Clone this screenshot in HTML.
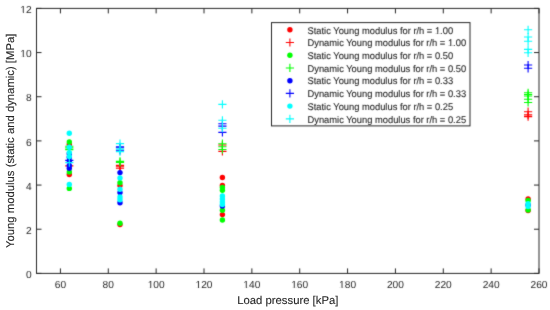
<!DOCTYPE html>
<html><head><meta charset="utf-8"><style>
html,body{margin:0;padding:0;background:#fff;}
svg{display:block;}
text{text-rendering:geometricPrecision;font-family:"Liberation Sans",Arial,sans-serif;fill:#262626;stroke:#262626;stroke-width:0;}
.t{font-size:10.2px;stroke-width:0;}
.l{font-size:9.7px;stroke-width:0.1px;}
.a{font-size:11.3px;stroke-width:0.1px;}
</style></head><body>
<svg width="550" height="310" viewBox="0 0 550 310">
<defs><filter id="bl" x="0" y="0" width="100%" height="100%" color-interpolation-filters="sRGB"><feConvolveMatrix order="3" kernelMatrix="0.02 0.08 0.02 0.08 0.6 0.08 0.02 0.08 0.02" preserveAlpha="true" edgeMode="duplicate"/></filter></defs>
<g filter="url(#bl)">
<rect width="550" height="310" fill="#fff"/>
<rect x="36.5" y="8.4" width="502.5" height="265.0" fill="none" stroke="#262626" stroke-width="1"/>
<path d="M60.43 273.4V268.4M60.43 8.4V13.4M108.29 273.4V268.4M108.29 8.4V13.4M156.14 273.4V268.4M156.14 8.4V13.4M204.00 273.4V268.4M204.00 8.4V13.4M251.86 273.4V268.4M251.86 8.4V13.4M299.71 273.4V268.4M299.71 8.4V13.4M347.57 273.4V268.4M347.57 8.4V13.4M395.43 273.4V268.4M395.43 8.4V13.4M443.29 273.4V268.4M443.29 8.4V13.4M491.14 273.4V268.4M491.14 8.4V13.4M539.00 273.4V268.4M539.00 8.4V13.4M36.5 273.40H41.5M539.0 273.40H534.0M36.5 229.23H41.5M539.0 229.23H534.0M36.5 185.07H41.5M539.0 185.07H534.0M36.5 140.90H41.5M539.0 140.90H534.0M36.5 96.73H41.5M539.0 96.73H534.0M36.5 52.57H41.5M539.0 52.57H534.0M36.5 8.40H41.5M539.0 8.40H534.0" stroke="#262626" stroke-width="1" fill="none"/>
<text x="60.43" y="288.1" text-anchor="middle" class="t">60</text>
<text x="108.29" y="288.1" text-anchor="middle" class="t">80</text>
<text x="156.14" y="288.1" text-anchor="middle" class="t">100</text>
<text x="204.00" y="288.1" text-anchor="middle" class="t">120</text>
<text x="251.86" y="288.1" text-anchor="middle" class="t">140</text>
<text x="299.71" y="288.1" text-anchor="middle" class="t">160</text>
<text x="347.57" y="288.1" text-anchor="middle" class="t">180</text>
<text x="395.43" y="288.1" text-anchor="middle" class="t">200</text>
<text x="443.29" y="288.1" text-anchor="middle" class="t">220</text>
<text x="491.14" y="288.1" text-anchor="middle" class="t">240</text>
<text x="539.00" y="288.1" text-anchor="middle" class="t">260</text>
<text x="31.7" y="278.00" text-anchor="end" class="t">0</text>
<text x="31.7" y="233.83" text-anchor="end" class="t">2</text>
<text x="31.7" y="189.67" text-anchor="end" class="t">4</text>
<text x="31.7" y="145.50" text-anchor="end" class="t">6</text>
<text x="31.7" y="101.33" text-anchor="end" class="t">8</text>
<text x="31.7" y="57.17" text-anchor="end" class="t">10</text>
<text x="31.7" y="13.00" text-anchor="end" class="t">12</text>
<circle cx="69.30" cy="144.50" r="2.7" fill="#ff0000"/>
<circle cx="69.30" cy="174.50" r="2.7" fill="#ff0000"/>
<circle cx="120.00" cy="185.60" r="2.7" fill="#ff0000"/>
<circle cx="120.00" cy="224.60" r="2.7" fill="#ff0000"/>
<circle cx="222.40" cy="177.50" r="2.7" fill="#ff0000"/>
<circle cx="222.40" cy="185.50" r="2.7" fill="#ff0000"/>
<circle cx="222.40" cy="214.60" r="2.7" fill="#ff0000"/>
<circle cx="528.10" cy="199.00" r="2.7" fill="#ff0000"/>
<circle cx="528.10" cy="210.50" r="2.7" fill="#ff0000"/>
<path d="M65.20 165.90H73.40M69.30 161.80V170.00" stroke="#ff0000" stroke-width="1.1" fill="none"/>
<path d="M115.90 165.40H124.10M120.00 161.30V169.50" stroke="#ff0000" stroke-width="1.1" fill="none"/>
<path d="M115.90 166.70H124.10M120.00 162.60V170.80" stroke="#ff0000" stroke-width="1.1" fill="none"/>
<path d="M115.90 168.30H124.10M120.00 164.20V172.40" stroke="#ff0000" stroke-width="1.1" fill="none"/>
<path d="M218.30 145.00H226.50M222.40 140.90V149.10" stroke="#ff0000" stroke-width="1.1" fill="none"/>
<path d="M218.30 151.40H226.50M222.40 147.30V155.50" stroke="#ff0000" stroke-width="1.1" fill="none"/>
<path d="M524.00 111.70H532.20M528.10 107.60V115.80" stroke="#ff0000" stroke-width="1.1" fill="none"/>
<path d="M524.00 114.90H532.20M528.10 110.80V119.00" stroke="#ff0000" stroke-width="1.1" fill="none"/>
<path d="M524.00 116.60H532.20M528.10 112.50V120.70" stroke="#ff0000" stroke-width="1.1" fill="none"/>
<circle cx="69.30" cy="141.90" r="2.7" fill="#00ff00"/>
<circle cx="69.30" cy="172.00" r="2.7" fill="#00ff00"/>
<circle cx="69.30" cy="188.40" r="2.7" fill="#00ff00"/>
<circle cx="120.00" cy="182.70" r="2.7" fill="#00ff00"/>
<circle cx="120.00" cy="223.30" r="2.7" fill="#00ff00"/>
<circle cx="222.40" cy="187.40" r="2.7" fill="#00ff00"/>
<circle cx="222.40" cy="190.30" r="2.7" fill="#00ff00"/>
<circle cx="222.40" cy="210.30" r="2.7" fill="#00ff00"/>
<circle cx="222.40" cy="220.00" r="2.7" fill="#00ff00"/>
<circle cx="528.10" cy="200.50" r="2.7" fill="#00ff00"/>
<circle cx="528.10" cy="210.00" r="2.7" fill="#00ff00"/>
<path d="M65.20 146.30H73.40M69.30 142.20V150.40" stroke="#00ff00" stroke-width="1.1" fill="none"/>
<path d="M65.20 147.90H73.40M69.30 143.80V152.00" stroke="#00ff00" stroke-width="1.1" fill="none"/>
<path d="M65.20 149.60H73.40M69.30 145.50V153.70" stroke="#00ff00" stroke-width="1.1" fill="none"/>
<path d="M115.90 161.40H124.10M120.00 157.30V165.50" stroke="#00ff00" stroke-width="1.1" fill="none"/>
<path d="M115.90 162.40H124.10M120.00 158.30V166.50" stroke="#00ff00" stroke-width="1.1" fill="none"/>
<path d="M218.30 143.70H226.50M222.40 139.60V147.80" stroke="#00ff00" stroke-width="1.1" fill="none"/>
<path d="M218.30 146.70H226.50M222.40 142.60V150.80" stroke="#00ff00" stroke-width="1.1" fill="none"/>
<path d="M218.30 149.50H226.50M222.40 145.40V153.60" stroke="#00ff00" stroke-width="1.1" fill="none"/>
<path d="M524.00 92.80H532.20M528.10 88.70V96.90" stroke="#00ff00" stroke-width="1.1" fill="none"/>
<path d="M524.00 94.50H532.20M528.10 90.40V98.60" stroke="#00ff00" stroke-width="1.1" fill="none"/>
<path d="M524.00 96.00H532.20M528.10 91.90V100.10" stroke="#00ff00" stroke-width="1.1" fill="none"/>
<path d="M524.00 99.20H532.20M528.10 95.10V103.30" stroke="#00ff00" stroke-width="1.1" fill="none"/>
<path d="M524.00 102.50H532.20M528.10 98.40V106.60" stroke="#00ff00" stroke-width="1.1" fill="none"/>
<circle cx="69.30" cy="153.80" r="2.7" fill="#0000ff"/>
<circle cx="69.30" cy="157.20" r="2.7" fill="#0000ff"/>
<circle cx="69.30" cy="161.00" r="2.7" fill="#0000ff"/>
<circle cx="69.30" cy="165.50" r="2.7" fill="#0000ff"/>
<circle cx="69.30" cy="168.30" r="2.7" fill="#0000ff"/>
<circle cx="120.00" cy="172.60" r="2.7" fill="#0000ff"/>
<circle cx="120.00" cy="192.60" r="2.7" fill="#0000ff"/>
<circle cx="120.00" cy="202.70" r="2.7" fill="#0000ff"/>
<circle cx="222.40" cy="206.00" r="2.7" fill="#0000ff"/>
<circle cx="528.10" cy="205.00" r="2.7" fill="#0000ff"/>
<path d="M65.20 160.40H73.40M69.30 156.30V164.50" stroke="#0000ff" stroke-width="1.1" fill="none"/>
<path d="M115.90 146.80H124.10M120.00 142.70V150.90" stroke="#0000ff" stroke-width="1.1" fill="none"/>
<path d="M115.90 147.80H124.10M120.00 143.70V151.90" stroke="#0000ff" stroke-width="1.1" fill="none"/>
<path d="M115.90 150.30H124.10M120.00 146.20V154.40" stroke="#0000ff" stroke-width="1.1" fill="none"/>
<path d="M218.30 123.70H226.50M222.40 119.60V127.80" stroke="#0000ff" stroke-width="1.1" fill="none"/>
<path d="M218.30 126.10H226.50M222.40 122.00V130.20" stroke="#0000ff" stroke-width="1.1" fill="none"/>
<path d="M218.30 132.40H226.50M222.40 128.30V136.50" stroke="#0000ff" stroke-width="1.1" fill="none"/>
<path d="M524.00 65.00H532.20M528.10 60.90V69.10" stroke="#0000ff" stroke-width="1.1" fill="none"/>
<path d="M524.00 68.30H532.20M528.10 64.20V72.40" stroke="#0000ff" stroke-width="1.1" fill="none"/>
<circle cx="69.30" cy="133.20" r="2.7" fill="#00ffff"/>
<circle cx="69.30" cy="147.30" r="2.7" fill="#00ffff"/>
<circle cx="69.30" cy="152.60" r="2.7" fill="#00ffff"/>
<circle cx="69.30" cy="156.60" r="2.7" fill="#00ffff"/>
<circle cx="69.30" cy="184.50" r="2.7" fill="#00ffff"/>
<circle cx="120.00" cy="177.90" r="2.7" fill="#00ffff"/>
<circle cx="120.00" cy="189.20" r="2.7" fill="#00ffff"/>
<circle cx="120.00" cy="196.90" r="2.7" fill="#00ffff"/>
<circle cx="120.00" cy="199.80" r="2.7" fill="#00ffff"/>
<circle cx="222.40" cy="196.00" r="2.7" fill="#00ffff"/>
<circle cx="222.40" cy="199.00" r="2.7" fill="#00ffff"/>
<circle cx="222.40" cy="202.00" r="2.7" fill="#00ffff"/>
<circle cx="222.40" cy="204.50" r="2.7" fill="#00ffff"/>
<circle cx="528.10" cy="203.60" r="2.7" fill="#00ffff"/>
<circle cx="528.10" cy="206.60" r="2.7" fill="#00ffff"/>
<path d="M65.20 162.60H73.40M69.30 158.50V166.70" stroke="#00ffff" stroke-width="1.1" fill="none"/>
<path d="M115.90 143.60H124.10M120.00 139.50V147.70" stroke="#00ffff" stroke-width="1.1" fill="none"/>
<path d="M115.90 149.10H124.10M120.00 145.00V153.20" stroke="#00ffff" stroke-width="1.1" fill="none"/>
<path d="M115.90 151.60H124.10M120.00 147.50V155.70" stroke="#00ffff" stroke-width="1.1" fill="none"/>
<path d="M218.30 104.40H226.50M222.40 100.30V108.50" stroke="#00ffff" stroke-width="1.1" fill="none"/>
<path d="M218.30 120.30H226.50M222.40 116.20V124.40" stroke="#00ffff" stroke-width="1.1" fill="none"/>
<path d="M218.30 128.20H226.50M222.40 124.10V132.30" stroke="#00ffff" stroke-width="1.1" fill="none"/>
<path d="M524.00 29.80H532.20M528.10 25.70V33.90" stroke="#00ffff" stroke-width="1.1" fill="none"/>
<path d="M524.00 37.00H532.20M528.10 32.90V41.10" stroke="#00ffff" stroke-width="1.1" fill="none"/>
<path d="M524.00 41.20H532.20M528.10 37.10V45.30" stroke="#00ffff" stroke-width="1.1" fill="none"/>
<path d="M524.00 49.40H532.20M528.10 45.30V53.50" stroke="#00ffff" stroke-width="1.1" fill="none"/>
<path d="M524.00 52.80H532.20M528.10 48.70V56.90" stroke="#00ffff" stroke-width="1.1" fill="none"/>
<rect x="271.5" y="22.6" width="198.5" height="103.30000000000001" fill="#fff" stroke="#262626" stroke-width="1"/>
<circle cx="289.90" cy="29.80" r="2.7" fill="#ff0000"/>
<text x="307.5" y="33.60" class="l" textLength="145.6" lengthAdjust="spacingAndGlyphs">Static Young modulus for r/h = 1.00</text>
<path d="M285.80 42.52H294.00M289.90 38.42V46.62" stroke="#ff0000" stroke-width="1.1" fill="none"/>
<text x="307.5" y="46.32" class="l" textLength="158.6" lengthAdjust="spacingAndGlyphs">Dynamic Young modulus for r/h = 1.00</text>
<circle cx="289.90" cy="55.24" r="2.7" fill="#00ff00"/>
<text x="307.5" y="59.04" class="l" textLength="145.6" lengthAdjust="spacingAndGlyphs">Static Young modulus for r/h = 0.50</text>
<path d="M285.80 67.96H294.00M289.90 63.86V72.06" stroke="#00ff00" stroke-width="1.1" fill="none"/>
<text x="307.5" y="71.76" class="l" textLength="158.6" lengthAdjust="spacingAndGlyphs">Dynamic Young modulus for r/h = 0.50</text>
<circle cx="289.90" cy="80.68" r="2.7" fill="#0000ff"/>
<text x="307.5" y="84.48" class="l" textLength="145.6" lengthAdjust="spacingAndGlyphs">Static Young modulus for r/h = 0.33</text>
<path d="M285.80 93.40H294.00M289.90 89.30V97.50" stroke="#0000ff" stroke-width="1.1" fill="none"/>
<text x="307.5" y="97.20" class="l" textLength="158.6" lengthAdjust="spacingAndGlyphs">Dynamic Young modulus for r/h = 0.33</text>
<circle cx="289.90" cy="106.12" r="2.7" fill="#00ffff"/>
<text x="307.5" y="109.92" class="l" textLength="145.6" lengthAdjust="spacingAndGlyphs">Static Young modulus for r/h = 0.25</text>
<path d="M285.80 118.84H294.00M289.90 114.74V122.94" stroke="#00ffff" stroke-width="1.1" fill="none"/>
<text x="307.5" y="122.64" class="l" textLength="158.6" lengthAdjust="spacingAndGlyphs">Dynamic Young modulus for r/h = 0.25</text>
<rect x="148.04" y="287.10" width="2.14" height="1.15" fill="#fff"/>
<rect x="151.10" y="287.10" width="2.04" height="1.15" fill="#fff"/>
<rect x="195.90" y="287.10" width="2.14" height="1.15" fill="#fff"/>
<rect x="198.96" y="287.10" width="2.04" height="1.15" fill="#fff"/>
<rect x="243.76" y="287.10" width="2.14" height="1.15" fill="#fff"/>
<rect x="246.82" y="287.10" width="2.04" height="1.15" fill="#fff"/>
<rect x="291.61" y="287.10" width="2.14" height="1.15" fill="#fff"/>
<rect x="294.67" y="287.10" width="2.04" height="1.15" fill="#fff"/>
<rect x="339.47" y="287.10" width="2.14" height="1.15" fill="#fff"/>
<rect x="342.53" y="287.10" width="2.04" height="1.15" fill="#fff"/>
<rect x="20.76" y="56.17" width="2.14" height="1.15" fill="#fff"/>
<rect x="23.82" y="56.17" width="2.04" height="1.15" fill="#fff"/>
<rect x="20.76" y="12.00" width="2.14" height="1.15" fill="#fff"/>
<rect x="23.82" y="12.00" width="2.04" height="1.15" fill="#fff"/>
<rect x="435.30" y="32.64" width="1.96" height="1.11" fill="#fff"/>
<rect x="438.10" y="32.64" width="1.87" height="1.11" fill="#fff"/>
<rect x="448.30" y="45.36" width="1.96" height="1.11" fill="#fff"/>
<rect x="451.10" y="45.36" width="1.87" height="1.11" fill="#fff"/>
</g>
<text x="287.8" y="303.6" text-anchor="middle" class="a">Load pressure [kPa]</text>
<text transform="translate(14.4 140.8) rotate(-90)" x="0" y="0" text-anchor="middle" class="a">Young modulus (static and dynamic) [MPa]</text>
</svg>
</body></html>
